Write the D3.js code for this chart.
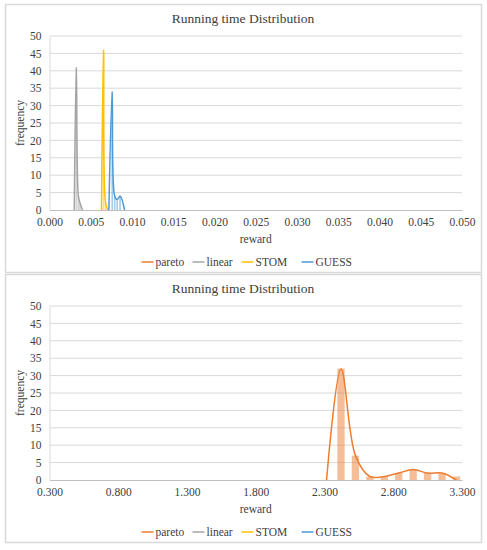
<!DOCTYPE html>
<html>
<head>
<meta charset="utf-8">
<script src="https://cdn.jsdelivr.net/npm/d3@7"></script>
<style>
  body { margin: 0; background: #fff; }
  text { font-family: "Liberation Serif", "Times New Roman", serif; fill: #404040; }
</style>
</head>
<body>
<div id="viz"></div>
<script>
const seriesNames = ['pareto', 'linear', 'STOM', 'GUESS'];
const seriesColors = ['#ED7D31', '#A5A5A5', '#FFC000', '#4A9AD8'];

const yTicks = [0, 5, 10, 15, 20, 25, 30, 35, 40, 45, 50];

// top panel
const topTicks = [0.000, 0.005, 0.010, 0.015, 0.020, 0.025, 0.030, 0.035, 0.040, 0.045, 0.050];
const linearX = [0.0030, 0.00325, 0.0035, 0.0037, 0.0040];
const linearFreq = [0, 41, 4, 2, 0];
const stomX = [0.0063, 0.00655, 0.0068, 0.0071];
const stomFreq = [0, 46, 2, 0];
const guessX = [0.0072, 0.0076, 0.0079, 0.0082, 0.00855, 0.0091];
const guessFreq = [0, 34, 4, 3, 4, 0];

// bottom panel
const bottomTicks = [0.3, 0.8, 1.3, 1.8, 2.3, 2.8, 3.3];
const paretoBinX = [2.42, 2.525, 2.63, 2.735, 2.84, 2.945, 3.05, 3.155, 3.26];
const paretoBinFreq = [32, 7, 1, 1, 2, 3, 2, 2, 1];
const paretoLineX = [2.315, 2.42, 2.525, 2.63, 2.735, 2.84, 2.945, 3.05, 3.155, 3.26];
const paretoLineFreq = [0, 32, 7, 1, 1, 2, 3, 2, 2, 0];

const W = 487, H = 550;

const svg = d3.select('#viz')
      .append('svg')
      .attr('width', W)
      .attr('height', H);

function zip(xs, ys) {
    return xs.map((x, i) => ({ x: x, y: ys[i] }));
}

function panel(oy, domain, ticks, fmt, series, bars, barW, id) {
    const g = svg.append('g')
          .attr('transform', `translate(0 ${oy})`);

    g.append('rect')
        .attr('x', 5.5)
        .attr('y', 4.5)
        .attr('width', 476)
        .attr('height', 268)
        .attr('fill', '#fff')
        .attr('stroke', '#D9D9D9')
        .attr('stroke-width', 1.5);

    const x = d3.scaleLinear().domain(domain).range([49.5, 462]);
    const y = d3.scaleLinear().domain([0, 50]).range([210, 36]);

    g.append('text')
        .attr('x', 243)
        .attr('y', 22.5)
        .attr('text-anchor', 'middle')
        .attr('font-size', 13.5)
        .text('Running time Distribution');

    g.append('g')
        .selectAll('line')
        .data(yTicks.slice(1))
        .join('line')
        .attr('x1', x.range()[0])
        .attr('x2', x.range()[1])
        .attr('y1', d => y(d))
        .attr('y2', d => y(d))
        .attr('stroke', '#D9D9D9')
        .attr('stroke-width', 1);

    const yAxis = g.append('g')
          .attr('transform', `translate(${x.range()[0]} 0)`)
          .call(d3.axisLeft(y).tickValues(yTicks).tickSize(0).tickPadding(8));
    yAxis.select('.domain').attr('stroke', '#D9D9D9');
    yAxis.selectAll('text')
        .attr('font-size', 11.5)
        .attr('font-family', '"Liberation Serif", serif')
        .attr('fill', '#404040');

    const xAxis = g.append('g')
          .attr('transform', `translate(0 ${y(0)})`)
          .call(d3.axisBottom(x).tickValues(ticks).tickFormat(fmt).tickSize(0).tickPadding(8));
    xAxis.select('.domain').attr('stroke', '#BFBFBF');
    xAxis.selectAll('text')
        .attr('font-size', 11.5)
        .attr('font-family', '"Liberation Serif", serif')
        .attr('fill', '#404040');

    g.append('text')
        .attr('x', (x.range()[0] + x.range()[1]) / 2)
        .attr('y', 243)
        .attr('text-anchor', 'middle')
        .attr('font-size', 11.5)
        .text('reward');

    g.append('text')
        .attr('transform', `translate(24 ${(y(0) + y(50)) / 2}) rotate(-90)`)
        .attr('text-anchor', 'middle')
        .attr('font-size', 11.5)
        .text('frequency');

    g.append('clipPath')
        .attr('id', id)
        .append('rect')
        .attr('x', x.range()[0])
        .attr('y', y(50) - 4)
        .attr('width', x.range()[1] - x.range()[0])
        .attr('height', y(0) - y(50) + 4);

    const plot = g.append('g').attr('clip-path', `url(#${id})`);

    bars.forEach(b => {
        plot.append('g')
            .selectAll('rect')
            .data(b.data.filter(d => d.y > 0))
            .join('rect')
            .attr('x', d => x(d.x) - barW / 2)
            .attr('width', barW)
            .attr('y', d => y(d.y))
            .attr('height', d => y(0) - y(d.y))
            .attr('fill', b.color)
            .attr('fill-opacity', 0.5);
    });

    const line = d3.line()
          .x(d => x(d.x))
          .y(d => y(d.y))
          .curve(d3.curveCatmullRom.alpha(0.5));

    series.forEach(s => {
        plot.append('path')
            .datum(s.data)
            .attr('d', line)
            .attr('fill', 'none')
            .attr('stroke', s.color)
            .attr('stroke-width', 1.5);
    });

    // legend
    const lg = g.append('g').attr('transform', 'translate(0 262)');
    const itemX = [141.5, 192.5, 241.5, 301.5];
    seriesNames.forEach((n, i) => {
        lg.append('line')
            .attr('x1', itemX[i])
            .attr('x2', itemX[i] + 12)
            .attr('y1', 0)
            .attr('y2', 0)
            .attr('stroke', seriesColors[i])
            .attr('stroke-width', 1.5);
        lg.append('text')
            .attr('x', itemX[i] + 14)
            .attr('y', 4)
            .attr('font-size', 11.5)
            .text(n);
    });
}

const fmt3 = d3.format('.3f');

panel(0, [0, 0.05], topTicks, fmt3,
      [
          { data: zip(linearX, linearFreq), color: seriesColors[1] },
          { data: zip(stomX, stomFreq), color: seriesColors[2] },
          { data: zip(guessX, guessFreq), color: seriesColors[3] }
      ],
      [
          { data: zip(linearX, linearFreq), color: seriesColors[1] },
          { data: zip(stomX, stomFreq), color: seriesColors[2] },
          { data: zip(guessX, guessFreq), color: seriesColors[3] }
      ],
      1.6, 'clipTop');

panel(270, [0.3, 3.3], bottomTicks, fmt3,
      [{ data: zip(paretoLineX, paretoLineFreq), color: seriesColors[0] }],
      [{ data: zip(paretoBinX, paretoBinFreq), color: seriesColors[0] }],
      7.3, 'clipBottom');
</script>
</body>
</html>
